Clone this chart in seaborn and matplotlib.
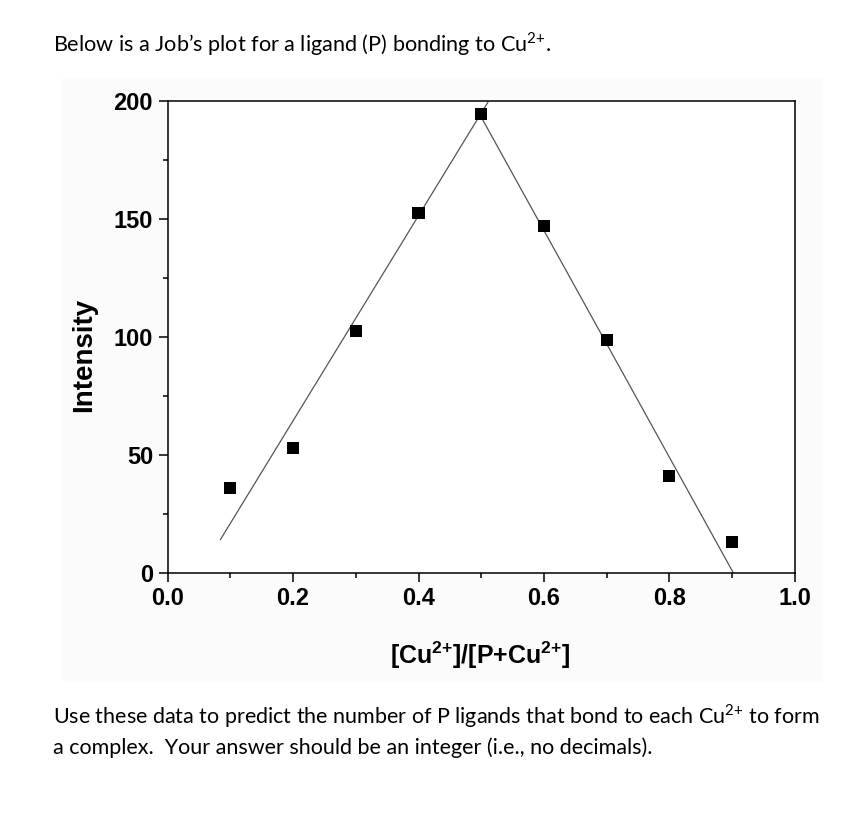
import matplotlib
matplotlib.use('Agg')
import matplotlib.pyplot as plt
from matplotlib.patches import Rectangle
from matplotlib.ticker import MultipleLocator
import seaborn as sns

# Job's plot data
mole_fraction = [0.1, 0.2, 0.3, 0.4, 0.5, 0.6, 0.7, 0.8, 0.9]
intensity = [36.0, 52.7, 102.5, 152.3, 194.5, 147.0, 98.6, 41.0, 12.9]

# the two straight fit lines
rise_x = [0.084, 0.511]
rise_y = [14.0, 199.5]
fall_x = [0.497, 0.902]
fall_y = [194.5, 0.0]

x_ticks = [0.0, 0.2, 0.4, 0.6, 0.8, 1.0]
x_tick_labels = ['0.0', '0.2', '0.4', '0.6', '0.8', '1.0']
y_ticks = [0, 50, 100, 150, 200]
y_tick_labels = ['0', '50', '100', '150', '200']

cu_ion = r'Cu$^{\mathsf{2{+}}}$'
question_top = "Below is a Job\u2019s plot for a ligand (P) bonding to " + cu_ion + "."
question_bottom = ["Use these data to predict the number of P ligands that bond to each " + cu_ion + " to form",
                   "a complex.  Your answer should be an integer (i.e., no decimals)."]

sns.set_theme(style='ticks')
plt.rcParams['font.family'] = ['Liberation Sans', 'DejaVu Sans']
plt.rcParams['mathtext.fontset'] = 'custom'
plt.rcParams['mathtext.rm'] = 'Liberation Sans:bold'
plt.rcParams['mathtext.it'] = 'Liberation Sans:italic:bold'
plt.rcParams['mathtext.bf'] = 'Liberation Sans:bold'
plt.rcParams['mathtext.sf'] = 'Lato'

W, H = 851, 822
fig = plt.figure(figsize=(W / 100, H / 100), dpi=100)
fig.patch.set_facecolor('white')

# faint grey backdrop of the pasted chart image
fig.add_artist(Rectangle((62 / W, 1 - 680 / H), (822 - 62) / W, (680 - 78) / H,
                         transform=fig.transFigure, color='#fbfbfb', zorder=0))

ax = fig.add_axes([167.7 / W, 1 - 572.7 / H, (794.7 - 167.7) / W, (572.7 - 100.7) / H])
ax.set_facecolor('white')

sns.lineplot(x=rise_x, y=rise_y, color='#555555', lw=0.9, ax=ax, estimator=None, sort=False)
sns.lineplot(x=fall_x, y=fall_y, color='#555555', lw=0.9, ax=ax, estimator=None, sort=False)
sns.scatterplot(x=mole_fraction, y=intensity, marker='s', s=75, color='black',
                edgecolor='none', ax=ax, zorder=3)

ax.set_xlim(0, 1)
ax.set_ylim(0, 200)
ax.set_xticks(x_ticks, labels=x_tick_labels, fontweight='bold', fontsize=17)
ax.set_yticks(y_ticks, labels=y_tick_labels, fontweight='bold', fontsize=17)
ax.xaxis.set_minor_locator(MultipleLocator(0.1))
ax.yaxis.set_minor_locator(MultipleLocator(25))
ax.tick_params(which='major', length=6.5, width=1.1, color='black', labelcolor='black', pad=4)
ax.tick_params(which='minor', length=3.5, width=1.1, color='black')
for side in ['left', 'right', 'top', 'bottom']:
    ax.spines[side].set_visible(True)
    ax.spines[side].set_color('black')
    ax.spines[side].set_linewidth(1.1)

ax.set_xlabel(r'[Cu$^{2{+}}$]/[P+Cu$^{2{+}}$]', fontsize=18, fontweight='bold', color='black')
ax.xaxis.set_label_coords(0.498, -0.193)
ax.xaxis.label.set_va('baseline')
ax.set_ylabel('Intensity', fontsize=20, fontweight='bold', color='black')
ax.yaxis.set_label_coords(-0.113, 0.461)

txt_family = ['Lato', 'DejaVu Sans']
fig.text(53 / W, 1 - 52 / H, question_top, fontsize=15.6, family=txt_family, color='black', va='baseline')
fig.text(53 / W, 1 - 723 / H, question_bottom[0], fontsize=15.5, family=txt_family, color='black', va='baseline')
fig.text(53 / W, 1 - 754 / H, question_bottom[1], fontsize=15.5, family=txt_family, color='black', va='baseline')

fig.savefig('out.png', dpi=100)
